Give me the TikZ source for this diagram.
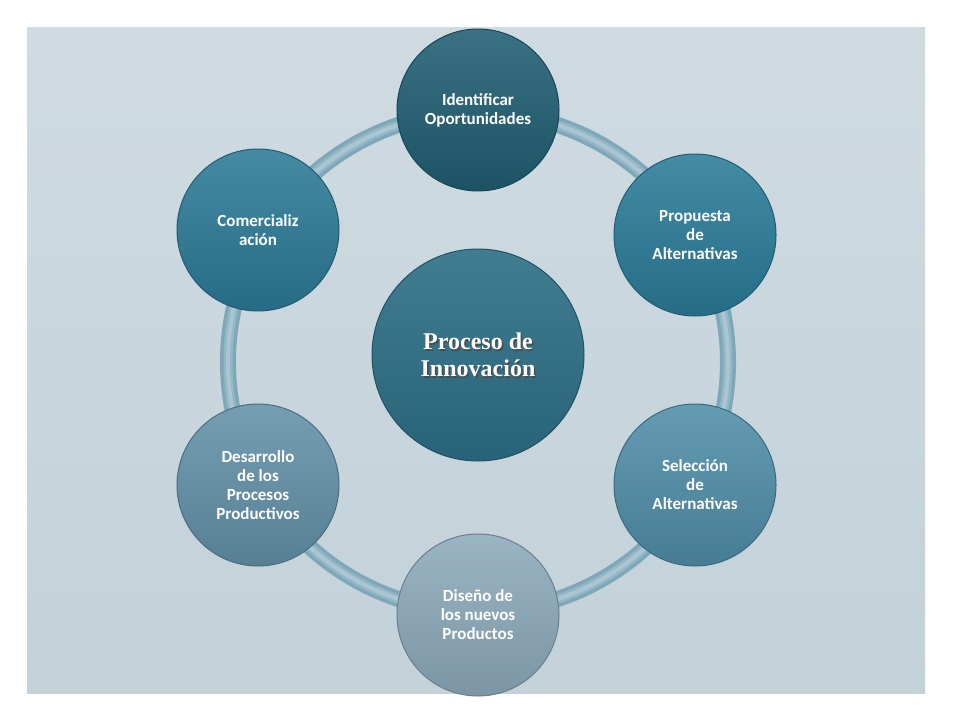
\documentclass[tikz,border=0pt]{standalone}
\usepackage{fontspec}
\setmainfont{Carlito}
\newfontfamily\serifb{Liberation Serif}
\definecolor{bg1}{HTML}{CFDBE1}
\definecolor{bg2}{HTML}{C3D1D9}
\definecolor{ringc}{HTML}{7EA8B9}
\definecolor{ringh}{HTML}{A9C6D2}
\definecolor{ca}{HTML}{1F5E72}
\definecolor{cb}{HTML}{2A7C99}
\definecolor{cd}{HTML}{4F8EA8}
\definecolor{ce}{HTML}{8CAABB}
\definecolor{cf}{HTML}{6391A8}
\definecolor{cg}{HTML}{2C7A97}
\definecolor{cm}{HTML}{2C6E85}
\begin{document}
\begin{tikzpicture}[x=1pt,y=-1pt,
  bub/.style={circle,minimum size=162pt,inner sep=0pt,align=center,text=white,font=\fontsize{17}{19}\selectfont\bfseries,draw=#1!75!black,line width=1pt,top color=#1!88!white,bottom color=#1!88!black,shading angle=0}]
\useasboundingbox (0,0) rectangle (960,720);
\fill[white] (0,0) rectangle (960,720);
\shade[top color=bg1,bottom color=bg2] (27,27) rectangle (925,693);
\coordinate (c) at (478,362);
\draw[line width=16pt,color=ringc] (c) circle (250);
\draw[line width=9pt,color=ringc!50!ringh] (c) circle (250);
\draw[line width=4pt,color=ringh] (c) circle (250);
\node[bub=ca] (a) at (478,110) {Identificar\\Oportunidades};
\node[bub=cb] (b) at (695,235) {Propuesta\\de\\Alternativas};
\node[bub=cd] (d) at (695,485) {Selección\\de\\Alternativas};
\node[bub=ce] (e) at (478,615) {Diseño de\\los nuevos\\Productos};
\node[bub=cf] (f) at (258,485) {Desarrollo\\de los\\Procesos\\Productivos};
\node[bub=cg] (g) at (258,230) {Comercializ\\ación};
\node[circle,minimum size=212pt,draw=cm!75!black,line width=1pt,top color=cm!90!white,bottom color=cm!90!black] (m) at (478,355) {};
\node[align=center,text=black!70,font=\serifb\fontsize{24}{27}\selectfont\bfseries] at ([shift={(1.5,1.5)}]m) {Proceso de\\Innovación};
\node[align=center,text=white,font=\serifb\fontsize{24}{27}\selectfont\bfseries] (mt) at (m) {Proceso de\\Innovación};
\end{tikzpicture}
\end{document}
